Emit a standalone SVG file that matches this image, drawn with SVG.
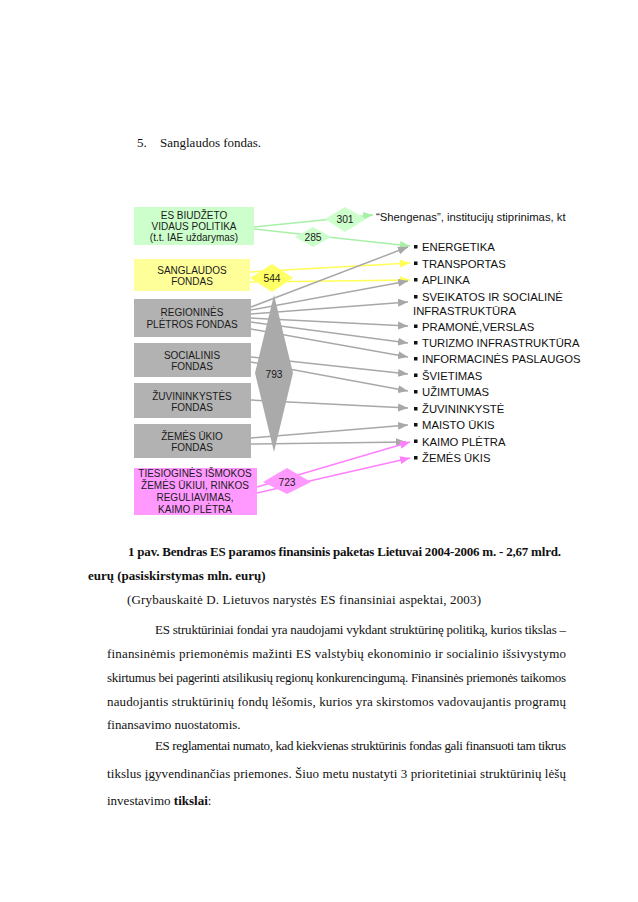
<svg xmlns="http://www.w3.org/2000/svg" width="638" height="902" viewBox="0 0 638 902">
<style>
.bg{fill:#ffffff}
.node{font-family:"Liberation Sans",Arial,sans-serif;font-size:10px;fill:#1a1a1a;text-anchor:middle}
.lbl{font-family:"Liberation Sans",Arial,sans-serif;font-size:10.3px;fill:#1a1a1a;text-anchor:middle}
.tgt{font-family:"Liberation Sans",Arial,sans-serif;font-size:11.3px;fill:#111111}
.body{font-family:"Liberation Serif","Times New Roman",serif;font-size:13px;fill:#111111}
.bold{font-weight:bold}
.green{fill:#ccffcc}
.yellow{fill:#ffff99}
.gray{fill:#b2b2b2}
.pink{fill:#ff99ff}
.cg{stroke:#a8f0a8;stroke-width:1.5;fill:none}
.cy{stroke:#ffff55;stroke-width:1.5;fill:none}
.cr{stroke:#a8a8a8;stroke-width:1.5;fill:none}
.cp{stroke:#ff80ff;stroke-width:1.5;fill:none}
.bul{fill:#111111}
</style>
<defs>
<marker id="ag" markerUnits="userSpaceOnUse" markerWidth="10" markerHeight="8" refX="10" refY="4" orient="auto"><path d="M0,0 L10,4 L0,8 z" fill="#a8f0a8"/></marker>
<marker id="ay" markerUnits="userSpaceOnUse" markerWidth="10" markerHeight="8" refX="10" refY="4" orient="auto"><path d="M0,0 L10,4 L0,8 z" fill="#ffff55"/></marker>
<marker id="ar" markerUnits="userSpaceOnUse" markerWidth="10" markerHeight="8" refX="10" refY="4" orient="auto"><path d="M0,0 L10,4 L0,8 z" fill="#a8a8a8"/></marker>
<marker id="ap" markerUnits="userSpaceOnUse" markerWidth="10" markerHeight="8" refX="10" refY="4" orient="auto"><path d="M0,0 L10,4 L0,8 z" fill="#ff80ff"/></marker>
</defs>
<rect class="bg" x="0" y="0" width="638" height="902"/>

<g id="heading">
<text class="body" x="137" y="147">5.</text>
<text class="body" x="160" y="147">Sanglaudos  fondas.</text>
</g>

<g id="connectors">
<line class="cg" x1="254" y1="227" x2="373" y2="215" marker-end="url(#ag)"/>
<line class="cg" x1="254" y1="229" x2="410" y2="246" marker-end="url(#ag)"/>
<line class="cy" x1="250" y1="272" x2="410" y2="263" marker-end="url(#ay)"/>
<line class="cy" x1="250" y1="282" x2="410" y2="280" marker-end="url(#ay)"/>
<line class="cr" x1="251" y1="307" x2="408" y2="247" marker-end="url(#ar)"/>
<line class="cr" x1="251" y1="310" x2="408" y2="281" marker-end="url(#ar)"/>
<line class="cr" x1="251" y1="314" x2="408" y2="302" marker-end="url(#ar)"/>
<line class="cr" x1="251" y1="318" x2="408" y2="326" marker-end="url(#ar)"/>
<line class="cr" x1="251" y1="322" x2="408" y2="343" marker-end="url(#ar)"/>
<line class="cr" x1="251" y1="329" x2="408" y2="357" marker-end="url(#ar)"/>
<line class="cr" x1="251" y1="357" x2="408" y2="374" marker-end="url(#ar)"/>
<line class="cr" x1="251" y1="362" x2="408" y2="391" marker-end="url(#ar)"/>
<line class="cr" x1="251" y1="400" x2="408" y2="408" marker-end="url(#ar)"/>
<line class="cr" x1="251" y1="438" x2="408" y2="425" marker-end="url(#ar)"/>
<line class="cr" x1="251" y1="444" x2="406" y2="442" marker-end="url(#ar)"/>
<line class="cp" x1="257" y1="487" x2="410" y2="442" marker-end="url(#ap)"/>
<line class="cp" x1="257" y1="493" x2="410" y2="458" marker-end="url(#ap)"/>
</g>

<g id="es-biudzeto">
<rect class="green" x="134" y="207" width="120" height="38"/>
<text class="node" x="194" y="219">ES BIUDŽETO</text>
<text class="node" x="194" y="230">VIDAUS  POLITIKA</text>
<text class="node" x="194" y="241">(t.t.  IAE uždarymas)</text>
</g>
<g id="sanglaudos">
<rect class="yellow" x="134" y="259" width="116" height="32"/>
<text class="node" x="192" y="274">SANGLAUDOS</text>
<text class="node" x="192" y="285">FONDAS</text>
</g>
<g id="regionines">
<rect class="gray" x="134" y="299" width="117" height="38"/>
<text class="node" x="192" y="316">REGIONINĖS</text>
<text class="node" x="192" y="328">PLĖTROS  FONDAS</text>
</g>
<g id="socialinis">
<rect class="gray" x="134" y="343" width="117" height="34"/>
<text class="node" x="192" y="359">SOCIALINIS</text>
<text class="node" x="192" y="370">FONDAS</text>
</g>
<g id="zuvininkystes">
<rect class="gray" x="134" y="383" width="117" height="35"/>
<text class="node" x="192" y="400">ŽUVININKYSTĖS</text>
<text class="node" x="192" y="411">FONDAS</text>
</g>
<g id="zemes-ukio">
<rect class="gray" x="134" y="424" width="117" height="34"/>
<text class="node" x="192" y="440">ŽEMĖS ŪKIO</text>
<text class="node" x="192" y="451">FONDAS</text>
</g>
<g id="tiesiogines">
<rect class="pink" x="134" y="468" width="123" height="47"/>
<text class="node" x="195" y="477">TIESIOGINĖS IŠMOKOS</text>
<text class="node" x="195" y="489">ŽEMĖS ŪKIUI, RINKOS</text>
<text class="node" x="195" y="501">REGULIAVIMAS,</text>
<text class="node" x="195" y="513">KAIMO PLĖTRA</text>
</g>

<g id="d301">
<polygon class="green" points="325,219 345,207 366,219 345,232"/>
<text class="lbl" x="345" y="223">301</text>
</g>
<g id="d285">
<polygon class="green" points="295,237 313,227 331,237 313,247"/>
<text class="lbl" x="313" y="241">285</text>
</g>
<g id="d544">
<polygon fill="#ffff66" points="250,278 272,264 293,278 272,292"/>
<text class="lbl" x="272" y="282">544</text>
</g>
<g id="d793">
<polygon fill="#aaaaaa" points="255,373 274,295 293,373 274,452"/>
<text class="lbl" x="274" y="378">793</text>
</g>
<g id="d723">
<polygon class="pink" points="263,482 287,468 311,482 287,494"/>
<text class="lbl" x="287" y="486">723</text>
</g>

<g id="shengenas"><text class="tgt" x="376" y="221">“Shengenas”, institucijų stiprinimas, kt</text></g>
<g id="energetika"><rect class="bul" x="414" y="245" width="3.5" height="3.5"/><text class="tgt" x="422" y="251">ENERGETIKA</text></g>
<g id="transportas"><rect class="bul" x="414" y="261.5" width="3.5" height="3.5"/><text class="tgt" x="422" y="267.5">TRANSPORTAS</text></g>
<g id="aplinka"><rect class="bul" x="414" y="278" width="3.5" height="3.5"/><text class="tgt" x="422" y="284">APLINKA</text></g>
<g id="sveikatos"><rect class="bul" x="414" y="295" width="3.5" height="3.5"/><text class="tgt" x="422" y="301">SVEIKATOS IR SOCIALINĖ</text><text class="tgt" x="413" y="314.5">INFRASTRUKTŪRA</text></g>
<g id="pramone"><rect class="bul" x="414" y="324.5" width="3.5" height="3.5"/><text class="tgt" x="422" y="330.5">PRAMONĖ,VERSLAS</text></g>
<g id="turizmo"><rect class="bul" x="414" y="341" width="3.5" height="3.5"/><text class="tgt" x="422" y="347">TURIZMO INFRASTRUKTŪRA</text></g>
<g id="informacines"><rect class="bul" x="414" y="357" width="3.5" height="3.5"/><text class="tgt" x="422" y="363">INFORMACINĖS PASLAUGOS</text></g>
<g id="svietimas"><rect class="bul" x="414" y="373.5" width="3.5" height="3.5"/><text class="tgt" x="422" y="379.5">ŠVIETIMAS</text></g>
<g id="uzimtumas"><rect class="bul" x="414" y="390" width="3.5" height="3.5"/><text class="tgt" x="422" y="396">UŽIMTUMAS</text></g>
<g id="zuvininkyste"><rect class="bul" x="414" y="407" width="3.5" height="3.5"/><text class="tgt" x="422" y="413">ŽUVININKYSTĖ</text></g>
<g id="maisto"><rect class="bul" x="414" y="423" width="3.5" height="3.5"/><text class="tgt" x="422" y="429">MAISTO ŪKIS</text></g>
<g id="kaimo"><rect class="bul" x="414" y="439.5" width="3.5" height="3.5"/><text class="tgt" x="422" y="445.5">KAIMO PLĖTRA</text></g>
<g id="zemes"><rect class="bul" x="414" y="456" width="3.5" height="3.5"/><text class="tgt" x="422" y="462">ŽEMĖS ŪKIS</text></g>

<g id="caption">
<text class="body bold" x="128" y="556" textLength="433" lengthAdjust="spacing">1 pav. Bendras ES paramos  finansinis  paketas Lietuvai 2004-2006 m. - 2,67 mlrd.</text>
<text class="body bold" x="88" y="580">eurų (pasiskirstymas mln. eurų)</text>
<text class="body" x="127" y="604" textLength="354" lengthAdjust="spacing">(Grybauskaitė  D. Lietuvos  narystės  ES finansiniai  aspektai, 2003)</text>
</g>

<g id="paragraphs">
<text class="body" x="155" y="634" textLength="411" lengthAdjust="spacing">ES struktūriniai  fondai  yra  naudojami  vykdant  struktūrinę  politiką,  kurios  tikslas  –</text>
<text class="body" x="107" y="658" textLength="459" lengthAdjust="spacing">finansinėmis  priemonėmis  mažinti  ES  valstybių  ekonominio  ir  socialinio  išsivystymo</text>
<text class="body" x="107" y="682" textLength="459" lengthAdjust="spacing">skirtumus  bei pagerinti  atsilikusių  regionų  konkurencingumą.  Finansinės  priemonės  taikomos</text>
<text class="body" x="107" y="706" textLength="459" lengthAdjust="spacing">naudojantis  struktūrinių  fondų  lėšomis,  kurios  yra  skirstomos  vadovaujantis  programų</text>
<text class="body" x="107" y="729">finansavimo  nuostatomis.</text>
<text class="body" x="155" y="750" textLength="411" lengthAdjust="spacing">ES reglamentai  numato,  kad kiekvienas  struktūrinis  fondas gali finansuoti  tam tikrus</text>
<text class="body" x="107" y="778" textLength="459" lengthAdjust="spacing">tikslus  įgyvendinančias  priemones.  Šiuo  metu  nustatyti  3  prioritetiniai  struktūrinių  lėšų</text>
<text class="body" x="107" y="805">investavimo  <tspan class="bold">tikslai</tspan>:</text>
</g>
</svg>
